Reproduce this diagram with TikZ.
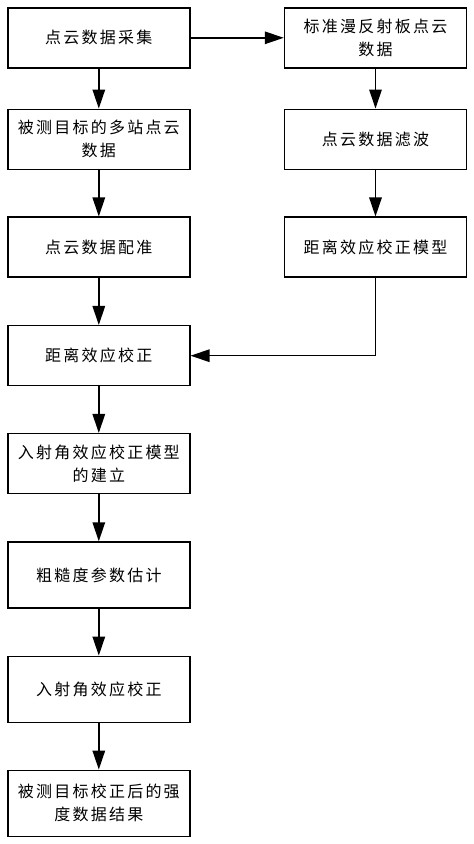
\documentclass[tikz,border=0pt]{standalone}
\usepackage{fontspec}
\newfontfamily\cjk[LetterSpace=14]{Noto Sans CJK SC}
\usetikzlibrary{arrows.meta}
\begin{document}
\begin{tikzpicture}[x=1pt,y=-1pt,
  box/.style={draw=black,line width=1.5pt,minimum width=182pt,inner sep=0pt,
    align=center,font=\cjk\fontsize{16pt}{23pt}\selectfont},
  hb/.style={box,minimum height=60pt},
  tb/.style={box,minimum height=66pt},
  conn/.style={line width=1.5pt,-{Triangle[length=19pt,width=12.5pt]}}]
\useasboundingbox (0,0) rectangle (474,844);
\node[hb] (b1) at (98.8,37.8) {点云数据采集};
\node[hb] (b2) at (98.8,139.3) {被测目标的多站点云\\数据};
\node[hb] (b3) at (98.8,247.2) {点云数据配准};
\node[hb] (b4) at (98.8,355.7) {距离效应校正};
\node[hb] (b5) at (98.8,463.7) {入射角效应校正模型\\的建立};
\node[tb] (b6) at (98.8,575) {粗糙度参数估计};
\node[tb] (b7) at (98.8,689.3) {入射角效应校正};
\node[tb] (b8) at (98.8,803.3) {被测目标校正后的强\\度数据结果};
\node[hb] (r1) at (375.5,37.8) {标准漫反射板点云\\数据};
\node[hb] (r2) at (375.5,139.3) {点云数据滤波};
\node[hb] (r3) at (375.5,247.2) {距离效应校正模型};
\draw[conn] (b1) -- (b2);
\draw[conn] (b2) -- (b3);
\draw[conn] (b3) -- (b4);
\draw[conn] (b4) -- (b5);
\draw[conn] (b5) -- (b6);
\draw[conn] (b6) -- (b7);
\draw[conn] (b7) -- (b8);
\draw[conn] (b1) -- (r1);
\draw[conn] (r1) -- (r2);
\draw[conn] (r2) -- (r3);
\draw[conn] (r3.south) |- (b4.east);
\end{tikzpicture}
\end{document}
